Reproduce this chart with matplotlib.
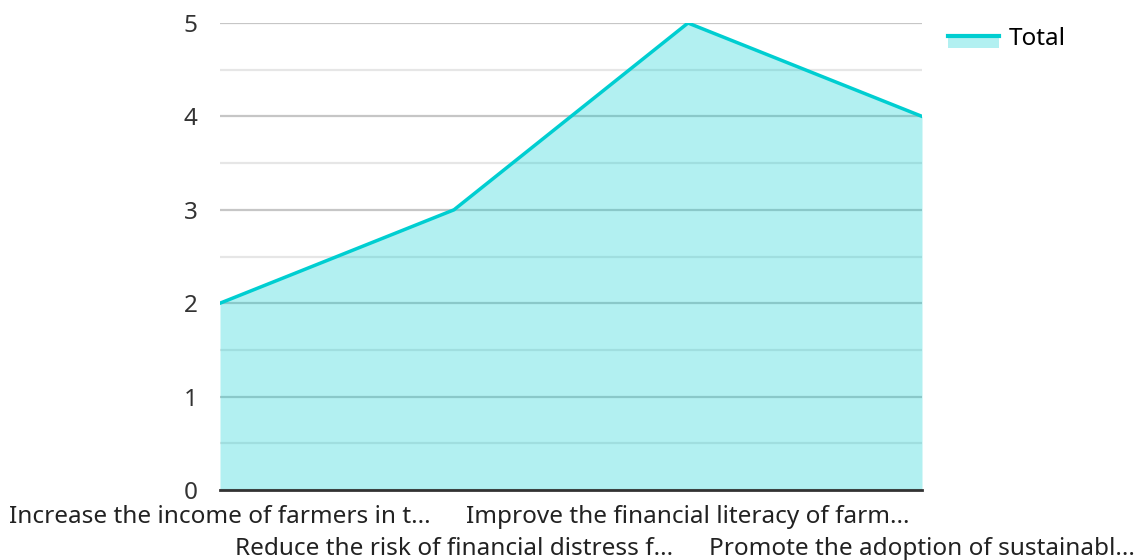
import matplotlib.pyplot as plt
from matplotlib.legend_handler import HandlerBase
from matplotlib.patches import Rectangle
from matplotlib.lines import Line2D

categories = [
    "Increase the income of farmers in t...",
    "Reduce the risk of financial distress f...",
    "Improve the financial literacy of farm...",
    "Promote the adoption of sustainabl...",
]
totals = [2, 3, 5, 4]

LINE = "#00CED1"
FS = 17.5

plt.rcParams['font.family'] = ['Noto Sans', 'DejaVu Sans']


class LineOverFill(HandlerBase):
    # line sitting on top of a filled band, like the reference legend
    def create_artists(self, legend, orig, xd, yd, w, h, fontsize, trans):
        band = Rectangle((-xd, -yd - 0.2 * h), w, 0.7 * h,
                         facecolor=LINE, alpha=0.3, edgecolor='none', transform=trans)
        ln = Line2D([-xd, -xd + w], [-yd + 0.5 * h] * 2, color=LINE,
                    linewidth=3, transform=trans)
        return [band, ln]


fig = plt.figure(figsize=(11.42, 5.6), dpi=100)
ax = fig.add_axes([220 / 1142, 70 / 560, 702 / 1142, 467 / 560])

x = list(range(len(totals)))
ax.fill_between(x, totals, 0, color=LINE, alpha=0.3, linewidth=0, zorder=2)
ax.plot(x, totals, color=LINE, linewidth=2.5, zorder=3)

ax.set_xlim(0, len(totals) - 1)
ax.set_ylim(0, 5)
ax.set_yticks(range(6))
ax.set_yticks([i + 0.5 for i in range(5)], minor=True)
ax.grid(axis='y', which='major', color='#c6c6c6', linewidth=1.6, zorder=1)
ax.grid(axis='y', which='minor', color='#e6e6e6', linewidth=1.6, zorder=1)
ax.set_axisbelow(True)

# staggered category labels: even ones on the first row, odd ones below
ax.set_xticks(x[0::2])
ax.set_xticklabels(categories[0::2])
ax.set_xticks(x[1::2], minor=True)
ax.set_xticklabels(categories[1::2], minor=True)
ax.tick_params(axis='both', which='both', length=0, labelsize=FS, colors='#222222')
ax.tick_params(axis='y', pad=16)
ax.tick_params(axis='x', which='major', pad=11)
ax.tick_params(axis='x', which='minor', pad=33.5)
for lbl in ax.get_yticklabels():
    lbl.set_color('#333333')

for s in ['top', 'right', 'left']:
    ax.spines[s].set_visible(False)
ax.spines['bottom'].set_color('#333333')
ax.spines['bottom'].set_linewidth(2)
ax.spines['bottom'].set_zorder(4)

proxy = Rectangle((0, 0), 1, 1)
fig.legend([proxy], ["Total"], handler_map={Rectangle: LineOverFill()},
           loc='upper left', bbox_to_anchor=(926 / 1142, 1 - 5 / 560),
           frameon=False, fontsize=FS, handlelength=2.1, handletextpad=0.4)

fig.savefig("out.png", dpi=100)
